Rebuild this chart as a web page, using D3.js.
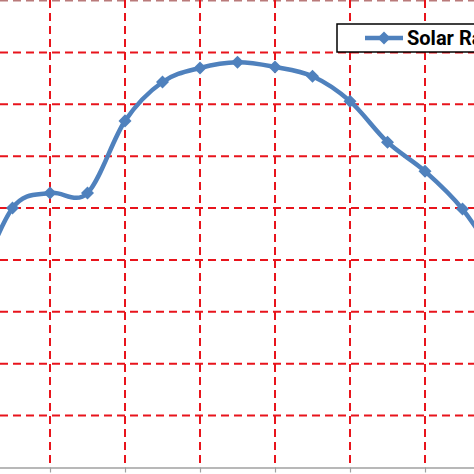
<!DOCTYPE html>
<html>
<head>
<meta charset="utf-8">
<script src="https://cdn.jsdelivr.net/npm/d3@7"></script>
<style>
  html, body { margin: 0; padding: 0; background: #fff; }
  svg { display: block; }
</style>
</head>
<body>
<svg id="chart"></svg>
<script>
// hourly values (first and last points fall just outside the crop)
var hours = [6, 7, 8, 9, 10, 11, 12, 13, 14, 15, 16, 17, 18, 19, 20];
var radiation = [340, 500, 529, 529, 668, 743, 770, 781, 772, 754, 706, 627, 571, 498, 390];
var xTicks = [8, 10, 12, 14, 16, 18];
var yTicks = [100, 200, 300, 400, 500, 600, 700, 800, 900];
var seriesName = "Solar Radiation";

var width = 474, height = 474;
var blue = "#4f81bd";

var svg = d3.select("#chart")
    .attr("width", width)
    .attr("height", height);

var x = d3.scaleLinear().domain([6, 20]).range([-25, 500]);
var y = d3.scaleLinear().domain([0, 900]).range([467.5, 0.5]);

// grid lines
svg.append("g")
    .selectAll("line")
    .data(yTicks)
    .enter().append("line")
    .attr("x1", 0)
    .attr("x2", width)
    .attr("y1", function (d) { return y(d); })
    .attr("y2", function (d) { return y(d); })
    .attr("stroke", function (d) { return d == 900 ? "#b97a7a" : "#e8141c"; })
    .attr("stroke-width", 2)
    .attr("stroke-dasharray", "8,5");

svg.append("g")
    .selectAll("line")
    .data(xTicks)
    .enter().append("line")
    .attr("x1", function (d) { return x(d); })
    .attr("x2", function (d) { return x(d); })
    .attr("y1", 0)
    .attr("y2", y(0))
    .attr("stroke", "#e8141c")
    .attr("stroke-width", 2)
    .attr("stroke-dasharray", "8,5");

// bottom axis, labels cropped away
var axis = svg.append("g")
    .attr("transform", "translate(0," + y(0) + ")")
    .call(d3.axisBottom(x).tickValues(xTicks).tickSize(5).tickSizeOuter(0).tickFormat(""));
axis.select(".domain").attr("stroke", "#a0a0a0").attr("stroke-width", 1.5);
axis.selectAll(".tick line").attr("stroke", "#a0a0a0").attr("stroke-width", 1.2);

// series
var points = hours.map(function (h, i) { return { h: h, v: radiation[i] }; });

var line = d3.line()
    .x(function (d) { return x(d.h); })
    .y(function (d) { return y(d.v); })
    .curve(d3.curveCatmullRom.alpha(0));

svg.append("path")
    .datum(points)
    .attr("fill", "none")
    .attr("stroke", blue)
    .attr("stroke-width", 4.5)
    .attr("d", line);

var diamond = d3.symbol().type(d3.symbolSquare).size(85);

svg.append("g")
    .selectAll("path")
    .data(points)
    .enter().append("path")
    .attr("d", diamond)
    .attr("fill", blue)
    .attr("transform", function (d) {
        return "translate(" + x(d.h) + "," + y(d.v) + ") rotate(45)";
    });

// legend (runs off the right edge like the original)
var legend = svg.append("g").attr("transform", "translate(337,24)");
legend.append("rect")
    .attr("width", 160)
    .attr("height", 28)
    .attr("fill", "#fff")
    .attr("stroke", "#000")
    .attr("stroke-width", 1.5);
legend.append("line")
    .attr("x1", 28).attr("x2", 66)
    .attr("y1", 14).attr("y2", 14)
    .attr("stroke", blue)
    .attr("stroke-width", 4.5);
legend.append("path")
    .attr("d", diamond)
    .attr("fill", blue)
    .attr("transform", "translate(47,14) rotate(45)");
legend.append("text")
    .attr("x", 70)
    .attr("y", 21)
    .attr("font-family", "'Liberation Sans Narrow', 'Roboto', sans-serif")
    .attr("font-weight", "bold")
    .attr("font-size", 20)
    .attr("fill", "#000")
    .text(seriesName);
</script>
</body>
</html>
